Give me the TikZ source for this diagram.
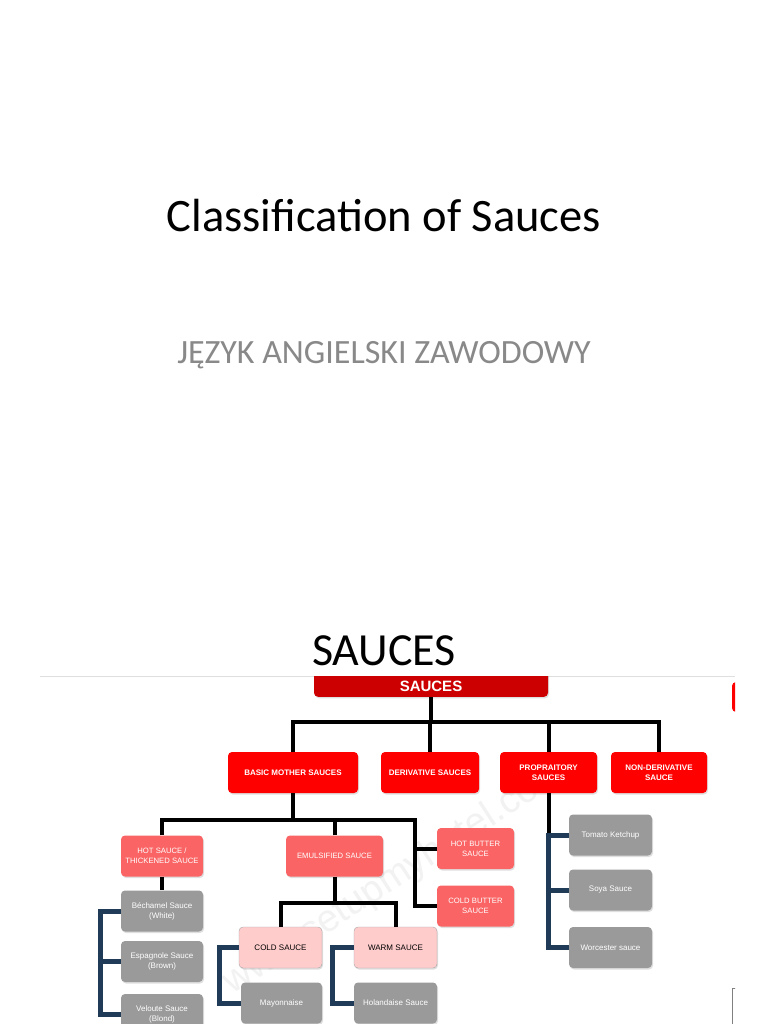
\documentclass[tikz,border=0pt]{standalone}
\usepackage{fontspec}
\setmainfont{Carlito}
\newfontfamily\arialfont{Liberation Sans}
\usetikzlibrary{shadows}
\definecolor{sauceDark}{HTML}{CC0000}
\definecolor{sauceRed}{HTML}{FF0000}
\definecolor{sauceLight}{HTML}{FA6464}
\definecolor{saucePink}{HTML}{FFCCCC}
\definecolor{sauceGray}{HTML}{9A9A9A}
\definecolor{sauceBlue}{HTML}{1F3B57}
\definecolor{subGray}{HTML}{898989}
\begin{document}
\begin{tikzpicture}[x=1pt, y=-1pt,
    box/.style={rectangle, rounded corners=4pt, inner sep=0pt, align=center, text=white,
      drop shadow={shadow xshift=1pt, shadow yshift=-1.5pt, opacity=0.25}},
    mainbox/.style={box, fill=sauceRed, minimum height=41pt, font=\arialfont\bfseries\fontsize{8}{10}\selectfont},
    subbox/.style={box, fill=sauceLight, minimum height=41pt, font=\arialfont\fontsize{7.7}{10}\selectfont},
    pinkbox/.style={box, fill=saucePink, draw=gray!70, text=black, minimum width=83pt, minimum height=41pt, font=\arialfont\fontsize{8}{10}\selectfont},
    itembox/.style={box, fill=sauceGray, minimum width=83pt, minimum height=41pt, font=\arialfont\fontsize{8}{10}\selectfont},
    tree/.style={line width=4pt, black},
    branch/.style={line width=5pt, sauceBlue}]
        \useasboundingbox (0,0) rectangle (768,1024);
        \fill[white] (0,0) rectangle (768,1024);

        % Slajd tytulowy
        \node[anchor=base, font=\fontsize{46.5}{56}\selectfont] (title) at (384,232) {Classification of Sauces};
        \node[anchor=base, text=subGray, font=\fontsize{34}{40}\selectfont] (subtitle) at (384,363) {JĘZYK ANGIELSKI ZAWODOWY};

        % Drugi slajd
        \node[anchor=base, font=\fontsize{46}{56}\selectfont] (slidetitle) at (384,665) {SAUCES};
        \draw[gray!25, line width=1pt] (40,676) -- (735,676);

        \begin{scope}
        \clip (40,676) rectangle (735,1024);

        % Znak wodny
        \node[rotate=33, text=gray!10, font=\arialfont\fontsize{38}{40}\selectfont] (watermark) at (395,878) {www.setupmyhotel.com};

        % Poziom 1 i 2
        \node[box, fill=sauceDark, anchor=south, minimum width=234pt, text height=28pt, text depth=5pt,
          font=\arialfont\bfseries\fontsize{15}{18}\selectfont] (sauces) at (431,697) {SAUCES};
        \node[mainbox, minimum width=130pt] (basic) at (293,772.5) {BASIC MOTHER SAUCES};
        \node[mainbox, minimum width=98pt] (derivative) at (430,772.5) {DERIVATIVE SAUCES};
        \node[mainbox, minimum width=97pt] (propr) at (548.5,772.5) {PROPRAITORY\\SAUCES};
        \node[mainbox, minimum width=96pt] (nonderiv) at (659,772.5) {NON-DERIVATIVE\\SAUCE};

        % Sosy podstawowe
        \node[subbox, minimum width=82pt] (hotsauce) at (162,856) {HOT SAUCE /\\THICKENED SAUCE};
        \node[subbox, minimum width=97pt] (emuls) at (334.5,856) {EMULSIFIED SAUCE};
        \node[subbox, minimum width=77pt] (hotbutter) at (475.5,848.5) {HOT BUTTER\\SAUCE};
        \node[subbox, minimum width=77pt] (coldbutter) at (475.5,906) {COLD BUTTER\\SAUCE};

        \node[itembox, minimum width=82pt] (bechamel) at (162,911) {Béchamel Sauce\\(White)};
        \node[itembox, minimum width=82pt] (espagnole) at (162,961.5) {Espagnole Sauce\\(Brown)};
        \node[itembox, minimum width=82pt] (veloute) at (162,1014.5) {Veloute Sauce\\(Blond)};

        \node[pinkbox] (coldsauce) at (280.5,947.5) {COLD SAUCE};
        \node[pinkbox] (warmsauce) at (395.5,947.5) {WARM SAUCE};
        \node[itembox, minimum width=81pt] (mayo) at (281.5,1003) {Mayonnaise};
        \node[itembox] (holandaise) at (395.5,1003) {Holandaise Sauce};

        % Sosy firmowe
        \node[itembox] (ketchup) at (610.5,835) {Tomato Ketchup};
        \node[itembox] (soya) at (610.5,890) {Soya Sauce};
        \node[itembox] (worcester) at (610.5,947.5) {Worcester sauce};

        % Linie czarne
        \coordinate (bar1) at (0,722);
        \coordinate (bar2) at (0,820);
        \coordinate (bar3) at (0,903);
        \coordinate (butterline) at (415,0);
        \draw[tree] (sauces.south) -- (sauces.south |- bar1);
        \draw[tree] (basic.north) -- (basic.north |- bar1) -- (nonderiv.north |- bar1) -- (nonderiv.north);
        \draw[tree] (derivative.north) -- (derivative.north |- bar1);
        \draw[tree] (propr.north) -- (propr.north |- bar1);

        \draw[tree] (basic.south) -- (basic.south |- bar2);
        \draw[tree] (hotsauce.north) -- (hotsauce.north |- bar2) -- (butterline |- bar2) -- (butterline |- coldbutter.west) -- (coldbutter.west);
        \draw[tree] (emuls.north) -- (emuls.north |- bar2);
        \draw[tree] (hotbutter.west) -- (butterline |- hotbutter.west);

        \draw[tree] (hotsauce.south) -- (bechamel.north);
        \draw[tree] (emuls.south) -- (emuls.south |- bar3);
        \draw[tree] (coldsauce.north) |- (bar3 -| warmsauce.north) -- (warmsauce.north);
        \draw[tree] (propr.south) -- (propr.south |- ketchup.west);

        % Linie niebieskie
        \coordinate (hotline) at (100,0);
        \draw[branch] (bechamel.west) -- (hotline |- bechamel.west) -- (hotline |- veloute.west) -- (veloute.west);
        \draw[branch] (espagnole.west) -- (hotline |- espagnole.west);
        \draw[branch] (coldsauce.west) -- ++(-19,0) |- (mayo.west);
        \draw[branch] (warmsauce.west) -- ++(-21,0) |- (holandaise.west);
        \draw[branch] (ketchup.west) -- (propr.south |- ketchup.west) -- (propr.south |- worcester.west) -- (worcester.west);
        \draw[branch] (soya.west) -- (propr.south |- soya.west);

        % Fragmenty przy prawej krawedzi
        \fill[sauceRed, rounded corners=4pt] (732,682) rectangle (760,712);
        \draw[gray, line width=1pt] (736,988) -- (732.5,988) -- (732.5,1024);
        \end{scope}
\end{tikzpicture}
\end{document}
